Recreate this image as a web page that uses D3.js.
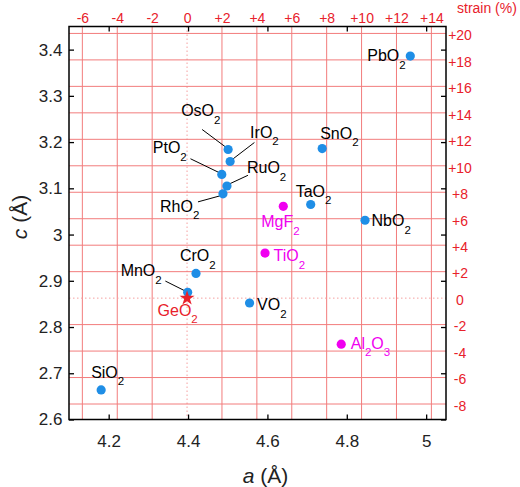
<!DOCTYPE html>
<html>
<head>
<meta charset="utf-8">
<script src="https://cdn.jsdelivr.net/npm/d3@7"></script>
<style>
  html, body { margin: 0; padding: 0; background: #fff; }
  svg { display: block; font-family: "Liberation Sans", Arial, Helvetica, sans-serif; }
</style>
</head>
<body>
<svg id="chart" width="520" height="487"></svg>
<script>
// ---------------- data ----------------
const blueNames = ["PbO_2","SnO_2","OsO_2","IrO_2","PtO_2","RuO_2","RhO_2","TaO_2","NbO_2","CrO_2","MnO_2","VO_2","SiO_2"];
const blueA     = [4.96, 4.738, 4.501, 4.506, 4.485, 4.498, 4.488, 4.709, 4.846, 4.420, 4.399, 4.555, 4.181];
const blueC     = [3.386, 3.186, 3.184, 3.158, 3.130, 3.105, 3.088, 3.065, 3.031, 2.916, 2.875, 2.852, 2.664];

const magentaNames = ["MgF_2","TiO_2","Al_2O_3"];
const magentaA     = [4.640, 4.594, 4.786];
const magentaC     = [3.061, 2.960, 2.763];

const refName = "GeO_2";
const refA = 4.3975;
const refC = 2.8625;

const xTicks = [4.2, 4.4, 4.6, 4.8, 5.0];
const yTicks = [2.6, 2.7, 2.8, 2.9, 3.0, 3.1, 3.2, 3.3, 3.4];
const strainTopTicks = [-6, -4, -2, 0, 2, 4, 6, 8, 10, 12, 14];
const strainRightTicks = [-8, -6, -4, -2, 0, 2, 4, 6, 8, 10, 12, 14, 16, 18, 20];

// ---------------- layout (label offsets from the marker, px) ----------------
const labelOffset = {
  "PbO_2": [-43, 5], "SnO_2": [-2, -10], "OsO_2": [-47, -33], "IrO_2": [20, -24],
  "PtO_2": [-69, -21], "RuO_2": [20, -13], "RhO_2": [-63, 18], "TaO_2": [-15, -8],
  "NbO_2": [6.5, 6], "CrO_2": [-16, -12], "MnO_2": [-67, -16], "VO_2": [7.5, 7.5],
  "SiO_2": [-10, -12], "MgF_2": [-22, 21], "TiO_2": [8.5, 8], "Al_2O_3": [9.5, 4.5],
  "GeO_2": [-29.5, 17.5]
};
// leader lines: [x1,y1,x2,y2] offsets from the marker
const leaders = {
  "OsO_2": [-26, -20, -2.7, -2.6],
  "IrO_2": [24.3, -19, 1.7, -1.7],
  "PtO_2": [-31.3, -15.7, -2.3, -1.7],
  "RuO_2": [21, -10.7, 1, -1.4],
  "RhO_2": [-25, 8, -1.6, 1.6],
  "MnO_2": [-22.3, -11.3, -2.3, -1.3]
};

// ---------------- scales ----------------
const L = 69, R = 446, T = 26.5, B = 419.5;
const xDom = [4.1, 5.05], yDom = [2.6, 3.45];
const x = d3.scaleLinear().domain(xDom).range([L, R]);
const y = d3.scaleLinear().domain(yDom).range([B, T]);
const xs = d3.scaleLinear().domain(xDom.map(v => (v / refA - 1) * 100)).range([L, R]);
const ys = d3.scaleLinear().domain(yDom.map(v => (v / refC - 1) * 100)).range([B, T]);

const svg = d3.select("#chart");
const RED = "#e8212b";
const GRID = "#f27c7c";
const MAG = "#f000f0";
const BLUE = "#1f8ee6";

// grid
const grid = svg.append("g");
grid.selectAll("line.v").data(strainTopTicks).join("line")
  .attr("x1", d => xs(d)).attr("x2", d => xs(d)).attr("y1", T).attr("y2", B)
  .attr("stroke", d => d === 0 ? "#f5a0a0" : GRID)
  .attr("stroke-width", 1)
  .attr("stroke-dasharray", d => d === 0 ? "1.5,2.5" : null);
grid.selectAll("line.h").data(strainRightTicks).join("line")
  .attr("y1", d => ys(d)).attr("y2", d => ys(d)).attr("x1", L).attr("x2", R)
  .attr("stroke", d => d === 0 ? "#f5a0a0" : GRID)
  .attr("stroke-width", 1)
  .attr("stroke-dasharray", d => d === 0 ? "1.5,2.5" : null);

// black axes with inward ticks
const fmt = d => d3.format("~g")(d);
const axL = svg.append("g").attr("transform", `translate(${L},0)`)
  .call(d3.axisLeft(y).tickValues(yTicks).tickSize(-5).tickPadding(6.5).tickFormat(fmt));
const axB = svg.append("g").attr("transform", `translate(0,${B})`)
  .call(d3.axisBottom(x).tickValues(xTicks).tickSize(-5).tickPadding(15).tickFormat(fmt));
const axT = svg.append("g").attr("transform", `translate(0,${T})`)
  .call(d3.axisTop(x).tickValues(xTicks).tickSize(-5).tickFormat(""));
const axR = svg.append("g").attr("transform", `translate(${R},0)`)
  .call(d3.axisRight(y).tickValues(yTicks).tickSize(-5).tickFormat(""));
[axL, axB, axT, axR].forEach(g => {
  g.select(".domain").remove();
  g.selectAll(".tick line").attr("stroke", "#000").attr("stroke-width", 1.3);
  g.selectAll("text").attr("font-size", 17).attr("fill", "#222").attr("font-family", null);
});
axB.selectAll("text").attr("dy", "0.71em");

// red strain axes
const sfmt = d => d > 0 ? "+" + d : String(d);
const axTS = svg.append("g").attr("transform", `translate(0,${T})`)
  .call(d3.axisTop(xs).tickValues(strainTopTicks).tickSize(0).tickPadding(4).tickFormat(sfmt));
const axRS = svg.append("g").attr("transform", `translate(${R},0)`)
  .call(d3.axisRight(ys).tickValues(strainRightTicks).tickSize(0).tickPadding(14).tickFormat(sfmt));
[axTS, axRS].forEach(g => {
  g.select(".domain").remove();
  g.selectAll("text").attr("font-size", 14).attr("fill", RED).attr("font-family", null);
});
axRS.selectAll("text").attr("text-anchor", "middle").attr("dy", "0.45em");

svg.append("text").attr("x", 457).attr("y", 13).attr("font-size", 14).attr("fill", RED).text("strain (%)");

// box
svg.append("rect").attr("x", L).attr("y", T).attr("width", R - L).attr("height", B - T)
  .attr("fill", "none").attr("stroke", "#000").attr("stroke-width", 1.5);

// axis titles
const xt = svg.append("text").attr("x", (L + R) / 2 + 8).attr("y", 483).attr("text-anchor", "middle")
  .attr("font-size", 21).attr("fill", "#222");
xt.append("tspan").attr("font-style", "italic").text("a");
xt.append("tspan").text(" (Å)");
const yt = svg.append("text").attr("transform", `translate(27,${(T + B) / 2 - 6}) rotate(-90)`)
  .attr("text-anchor", "middle").attr("font-size", 21).attr("fill", "#222");
yt.append("tspan").attr("font-style", "italic").text("c");
yt.append("tspan").text(" (Å)");

// helpers
function chemLabel(g, name, px, py, color) {
  const off = labelOffset[name] || [6, 4];
  const t = g.append("text").attr("x", px + off[0]).attr("y", py + off[1])
    .attr("font-size", 16).attr("fill", color);
  const parts = name.split(/_(\d)/);
  parts.forEach((p, i) => {
    if (p === "") return;
    if (i % 2 === 1) {
      t.append("tspan").attr("font-size", 11.5).attr("dy", 7.5).text(p);
    } else {
      const s = t.append("tspan").text(p);
      if (i > 0) s.attr("dy", -7.5);
    }
  });
}

const marks = svg.append("g");
const blueData = blueNames.map((n, i) => ({ n, a: blueA[i], c: blueC[i] }));
const magData = magentaNames.map((n, i) => ({ n, a: magentaA[i], c: magentaC[i] }));

// leaders
blueData.forEach(d => {
  const l = leaders[d.n];
  if (!l) return;
  const px = x(d.a), py = y(d.c);
  marks.append("line").attr("x1", px + l[0]).attr("y1", py + l[1]).attr("x2", px + l[2]).attr("y2", py + l[3])
    .attr("stroke", "#000").attr("stroke-width", 1);
});

marks.selectAll("circle.b").data(blueData).join("circle")
  .attr("cx", d => x(d.a)).attr("cy", d => y(d.c)).attr("r", 4.6).attr("fill", BLUE);
marks.selectAll("circle.m").data(magData).join("circle")
  .attr("cx", d => x(d.a)).attr("cy", d => y(d.c)).attr("r", 4.6).attr("fill", MAG);

blueData.forEach(d => chemLabel(marks, d.n, x(d.a), y(d.c), "#000"));
magData.forEach(d => chemLabel(marks, d.n, x(d.a), y(d.c), MAG));

// GeO2 star
marks.append("path").attr("d", d3.symbol(d3.symbolStar, 70)())
  .attr("transform", `translate(${x(refA)},${y(refC)})`).attr("fill", RED);
chemLabel(marks, refName, x(refA), y(refC), RED);
</script>
</body>
</html>
